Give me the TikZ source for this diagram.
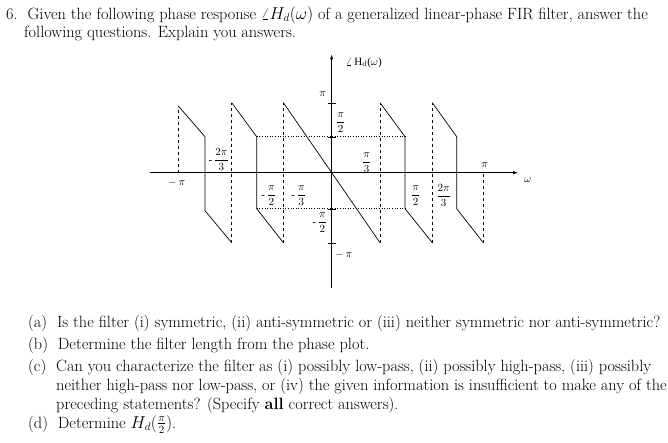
\documentclass[tikz,border=0pt]{standalone}
\usepackage{fontspec}
\newfontfamily\plotfont{Liberation Serif}
\begin{document}
\begin{tikzpicture}[x=1pt,y=-1pt,
 txt/.style={anchor=base west,inner sep=0pt,font=\fontsize{16.3}{18}\selectfont},
 lab/.style={inner sep=0pt,font=\plotfont\fontsize{11}{12}\selectfont},
 ph/.style={line width=0.7pt},
 dsh/.style={dashed,line width=0.6pt},
 dot/.style={dotted,line width=0.6pt}]
\useasboundingbox (0,0) rectangle (668,442);
% text
\node[txt] (t1) at (6,19) {6.\ \ Given the following phase response $\angle H_d(\omega)$ of a generalized linear-phase FIR filter, answer the};
\node[txt] (t2) at (24,37) {following questions. Explain you answers.};
\node[txt] (a) at (28,327) {(a)\ \ Is the filter (i) symmetric, (ii) anti-symmetric or (iii) neither symmetric nor anti-symmetric?};
\node[txt] (b) at (28,349) {(b)\ \ Determine the filter length from the phase plot.};
\node[txt] (c) at (28,371) {(c)\ \ Can you characterize the filter as (i) possibly low-pass, (ii) possibly high-pass, (iii) possibly};
\node[txt] (c2) at (56,390) {neither high-pass nor low-pass, or (iv) the given information is insufficient to make any of the};
\node[txt] (c3) at (56,409) {preceding statements? (Specify \textbf{all} correct answers).};
\node[txt] (d) at (28,428) {(d)\ \ Determine $H_d(\frac{\pi}{2})$.};
% plot: origin (331.7,172.7)
\begin{scope}[shift={(331.7,172.7)}]
\coordinate (xl) at (-182,0); \coordinate (xr) at (186,0);
\coordinate (yb) at (0,115); \coordinate (yt) at (0,-118);
\draw[-latex,line width=0.6pt] (xl) -- (xr);
\draw[-latex,line width=0.6pt] (yb) -- (yt);
\node[lab] (om) at (196,7) {$\omega$};
\node[lab,anchor=west] (yl) at (14,-110) {$\angle\,$H$_{\mathrm d}$($\omega$)};
\foreach \y in {-70,-36,36,70}{\draw (-4,\y) -- (4,\y);}
% dotted
\draw[dot] (-75,-36) -- (73.3,-36);
\draw[dot] (-75,36) -- (73.3,36);
% phase segments
\draw[dsh] (-153.4,0) -- (-153.4,-66.7);
\draw[ph] (-153.4,-66.7) -- (-126.7,-36) -- (-126.7,38) -- (-100,70);
\draw[dsh] (-100,70) -- (-100,-70);
\draw[ph] (-100,-70) -- (-75,-36) -- (-75,36) -- (-48.3,70);
\draw[dsh] (-48.3,70) -- (-48.3,-70);
\draw[ph] (-48.3,-70) -- (48.3,70);
\draw[dsh] (48.3,70) -- (48.3,-70);
\draw[ph] (48.3,-70) -- (73.3,-36) -- (73.3,36) -- (100.6,70);
\draw[dsh] (100.6,70) -- (100.6,-70);
\draw[ph] (100.6,-70) -- (125,-36) -- (125,36) -- (151.6,70);
\draw[dsh] (151.6,70) -- (151.6,0);
% labels
\node[lab] (lmpi) at (-155,10) {$-\,\pi$};
\node[lab] (lm23) at (-113,-13) {-\,$\displaystyle\frac{2\pi}{3}$};
\node[lab] (lm12) at (-63,23) {-\,$\displaystyle\frac{\pi}{2}$};
\node[lab] (lm13) at (-33,23) {-\,$\displaystyle\frac{\pi}{3}$};
\node[lab] (lp13) at (35,-10) {$\displaystyle\frac{\pi}{3}$};
\node[lab] (lp12) at (84,23) {$\displaystyle\frac{\pi}{2}$};
\node[lab] (lp23) at (112,23) {$\displaystyle\frac{2\pi}{3}$};
\node[lab] (lpi) at (153,-8) {$\pi$};
\node[lab] (ypi) at (-9,-79) {$\pi$};
\node[lab] (yp12) at (9,-50) {$\displaystyle\frac{\pi}{2}$};
\node[lab] (ym12) at (-12,50) {-\,$\displaystyle\frac{\pi}{2}$};
\node[lab] (ympi) at (12,82) {$-\,\pi$};
\end{scope}
\end{tikzpicture}
\end{document}
